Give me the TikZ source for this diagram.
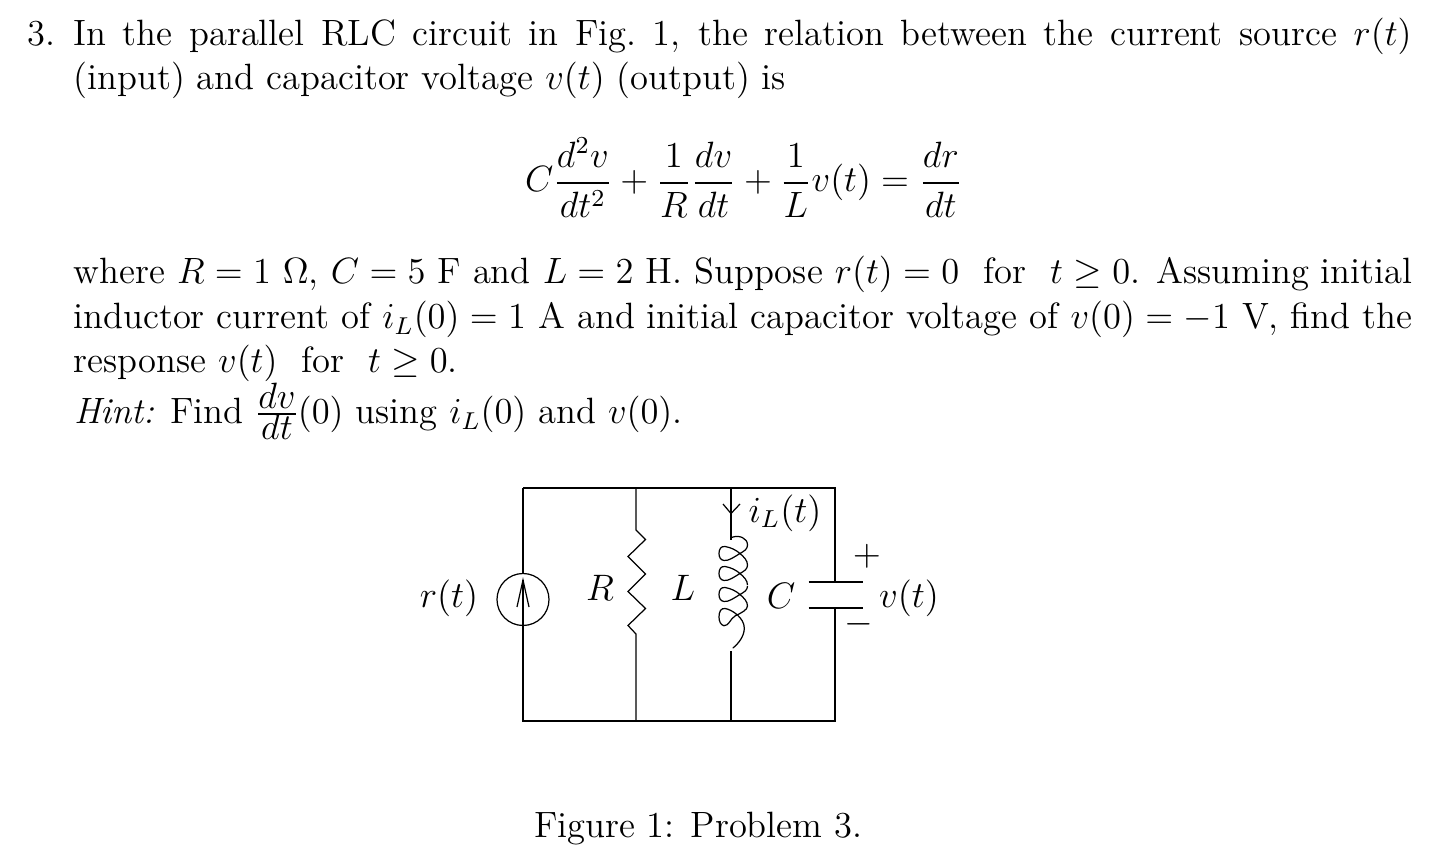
\documentclass[tikz,border=0pt]{standalone}
\usepackage{amsmath}
\newcommand{\hintfrac}{\mbox{\kern0.9pt\rlap{\makebox[12.3pt]{\raisebox{5.2pt}{$dv$}}}\rlap{\makebox[12.3pt]{\raisebox{-5.2pt}{$dt$}}}\rlap{\rule[3.05pt]{12.3pt}{0.4pt}}\hspace{12.3pt}\kern0.7pt}}
\tikzset{
  px/.style={x=0.3257pt,y=-0.3257pt},
  txt/.style={anchor=base west,inner sep=0pt,outer sep=0pt,scale=0.993,transform shape},
  lab/.style={inner sep=0pt,outer sep=0pt},
  wire/.style={draw=black,line width=0.4pt,line join=miter}
}
\begin{document}
\begin{tikzpicture}[px]
\fontsize{12}{14.5}\selectfont
\useasboundingbox (0,0) rectangle (1454,866);
% text
\node[txt] (num) at (27.5,46) {3.};
\node[txt] (l1) at (73.5,46) {\hbox to 438.9pt{In the parallel RLC circuit in Fig.~1, the relation between the current source $r(t)$}};
\node[txt] (l2) at (73.5,90) {(input) and capacitor voltage $v(t)$ (output) is};
\node[txt] (eq) at (525,192) {$\displaystyle C\frac{d^2v}{dt^2}+\frac{1}{R}\frac{dv}{dt}+\frac{1}{L}v(t)=\frac{dr}{dt}$};
\node[txt] (l3) at (73.5,284) {\hbox to 439.2pt{where $R=1$ $\Omega$, $C=5$ F and $L=2$ H. Suppose $r(t)=0$\ \ for\ \ $t\ge0$. Assuming initial}};
\node[txt] (l4) at (73.5,329) {\hbox to 439.2pt{inductor current of $i_L(0)=1$ A and initial capacitor voltage of $v(0)=-1$ V, find the}};
\node[txt] (l5) at (73.5,373) {response $v(t)$\ \ for\ \ $t\ge0$.};
\node[txt] (l6) at (74,424) {\emph{Hint:} Find \hintfrac$(0)$ using $i_L(0)$ and $v(0)$.};
\node[txt] (cap) at (534,837) {Figure 1: Problem 3.};
% circuit junctions
\coordinate (tl) at (523,488);
\coordinate (tr) at (835,488);
\coordinate (bl) at (523,721);
\coordinate (br) at (835,721);
\coordinate (tR) at (636,488);
\coordinate (bR) at (636,721);
\coordinate (tL) at (731,488);
\coordinate (bL) at (731,721);
\coordinate (Rs) at (636,530);
\coordinate (Re) at (636,634);
\coordinate (Ls) at (731,540);
\coordinate (Le) at (731,651);
\coordinate (Ct) at (835,582);
\coordinate (Cb) at (835,608);
% source
\node[wire,circle,minimum size=52*0.3257pt,inner sep=0pt,outer sep=0pt] (src) at (523,599.5) {};
\coordinate (tip) at (523,580);
\draw[wire] (tl) -- (tr) -- (Ct);
\draw[wire] (Cb) -- (br) -- (bl) -- (src.south);
\draw[wire] (tl) -- (src.north);
\draw[wire] (src.south) -- (tip);
\draw[wire] (517,607) -- (tip) -- (529,607);
% resistor
\draw[wire] (tR) -- (Rs) -- (645.5,539.5) -- (628,556.5) -- (645.5,574) -- (628,591.5) -- (645.5,608.5) -- (628,625.5) -- (Re) -- (bR);
% inductor
\draw[wire] (tL) -- (Ls);
\draw[wire] (Le) -- (bL);
\draw[wire,line cap=round] (731.5,537.5) .. controls (739,534.5) and (747.5,538) .. (747.5,545);
\foreach \d in {0,20,41}{
\draw[wire] (747.5,545+\d)
  .. controls (747.5,549.5+\d) and (744,551+\d) .. (740,553.5+\d)
  .. controls (734,557+\d) and (729,561+\d) .. (724,560.5+\d)
  .. controls (720.5,560+\d) and (719,557+\d) .. (719,553.5+\d)
  .. controls (719,549+\d) and (721,546+\d) .. (725,546.5+\d)
  .. controls (731,547.5+\d) and (736,550+\d) .. (740,553.5+\d)
  .. controls (744,557+\d) and (747.5,560.5+\d) .. (747.5,565+\d);
}
\draw[wire,line cap=round] (747.5,606)
  .. controls (747.5,610) and (741,613) .. (735,616)
  .. controls (730,619) and (729,626) .. (724,625.7)
  .. controls (720.5,625) and (719,621) .. (719,617)
  .. controls (719,611.5) and (721,608) .. (725,608.5)
  .. controls (732,609.5) and (744.3,618) .. (744.3,628)
  .. controls (744.3,636) and (739,643) .. (733,648);
% current arrow
\coordinate (itip) at (731,513.5);
\draw[wire] (723,504) -- (itip) -- (740,504);
% capacitor
\coordinate (Ctl) at (808.5,582); \coordinate (Ctr) at (862.5,582);
\coordinate (Cbl) at (808.5,608); \coordinate (Cbr) at (862.5,608);
\draw[wire] (Ctl) -- (Ctr);
\draw[wire] (Cbl) -- (Cbr);
% labels
\node[lab] (lr) at (449,598.5) {$r(t)$};
\node[lab] (lR) at (600,588) {$R$};
\node[lab] (lL) at (683,588) {$L$};
\node[lab] (lC) at (781,596) {$C$};
\node[lab] (lv) at (909,598.5) {$v(t)$};
\node[lab] (lp) at (867,556) {$+$};
\node[lab] (lm) at (859,624) {$-$};
\node[lab] (li) at (785,513) {$i_L(t)$};
\end{tikzpicture}
\end{document}
